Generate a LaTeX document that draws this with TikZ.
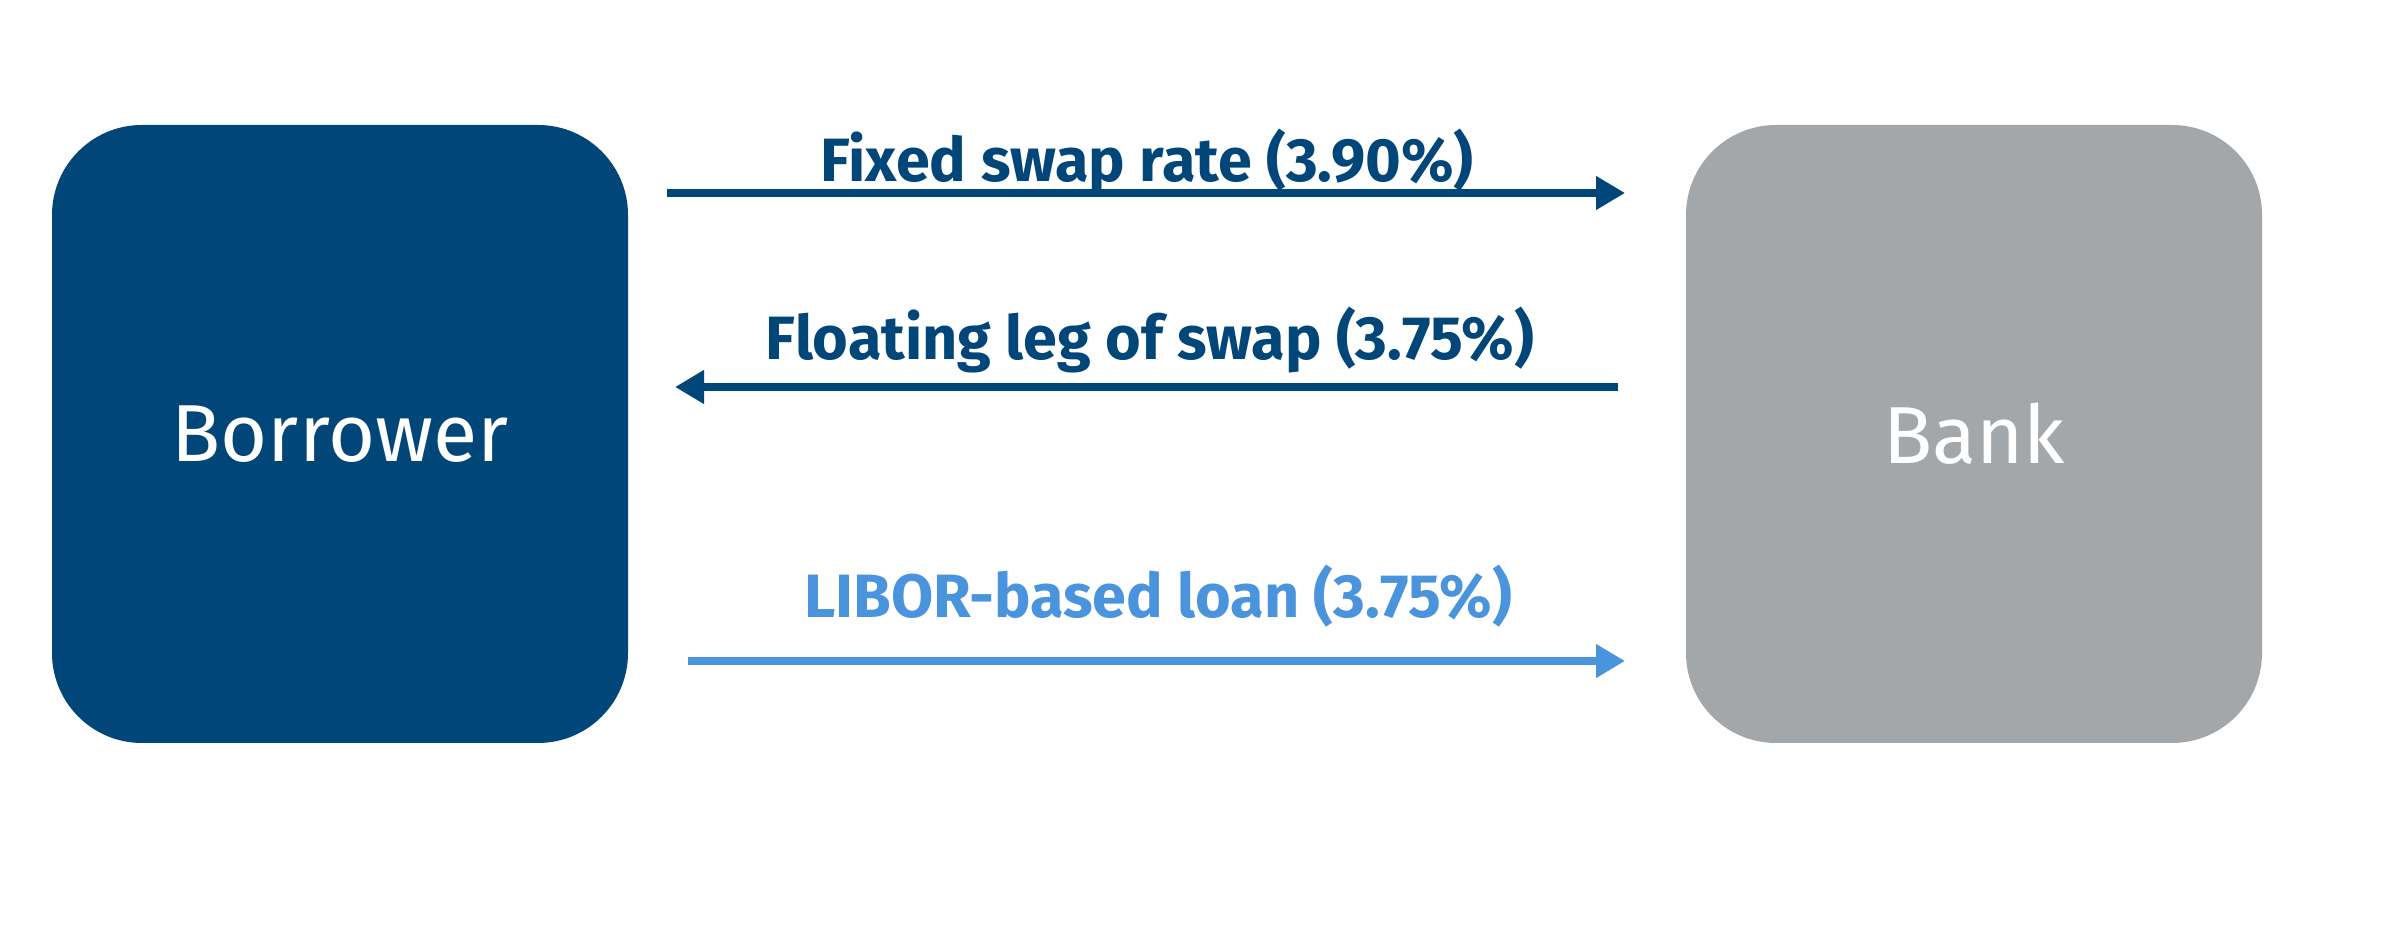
\documentclass[tikz,border=0pt]{standalone}
\usepackage{fontspec}
\setmainfont{Fira Sans}
\usetikzlibrary{arrows.meta}
\definecolor{navy}{RGB}{0,70,121}
\definecolor{bankgray}{RGB}{163,167,170}
\definecolor{skyblue}{RGB}{74,148,221}
\begin{document}
\begin{tikzpicture}[x=1cm,y=1cm,
  party/.style={rounded corners=0.9cm, minimum width=5.76cm, minimum height=6.18cm,
    inner sep=0pt, text=white, font=\fontsize{23}{27}\selectfont},
  flow/.style={line width=0.08cm, -{Triangle[length=0.29cm,width=0.32cm]}},
  lbl/.style={anchor=base, font=\bfseries\fontsize{17.4}{21}\selectfont}]
\useasboundingbox[fill=white] (0,0) rectangle (24,-9.25);
\node[party, fill=navy] (borrower) at (3.40,-4.34) {Borrower};
\node[party, fill=bankgray] (bank) at (19.74,-4.34) {Bank};
\coordinate (f1s) at (6.67,-1.93);
\coordinate (f1e) at (16.25,-1.93);
\coordinate (f2s) at (16.18,-3.87);
\coordinate (f2e) at (6.75,-3.87);
\coordinate (f3s) at (6.88,-6.61);
\coordinate (f3e) at (16.25,-6.61);
\draw[flow, navy] (f1s) -- (f1e);
\draw[flow, navy] (f2s) -- (f2e);
\draw[flow, skyblue] (f3s) -- (f3e);
\node[lbl, text=navy] (l1) at (11.47,-1.82) {Fixed swap rate (3.90\%)};
\node[lbl, text=navy] (l2) at (11.50,-3.60) {Floating leg of swap (3.75\%)};
\node[lbl, text=skyblue] (l3) at (11.58,-6.18) {LIBOR-based loan (3.75\%)};
\end{tikzpicture}
\end{document}
